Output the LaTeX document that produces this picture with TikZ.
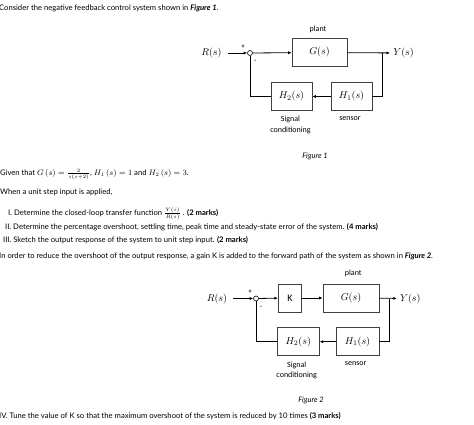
\documentclass[tikz,border=0pt]{standalone}
\usepackage[no-math]{fontspec}
\setmainfont{Lato}
\newfontfamily\calibri{Carlito}
\usetikzlibrary{arrows.meta,positioning}

\begin{document}
\begin{tikzpicture}[x=1pt, y=-1pt,
    txt/.style={anchor=west, inner sep=0pt, font=\fontsize{7.65}{9}\selectfont},
    figcap/.style={inner sep=0pt, font=\fontsize{7.5}{9}\selectfont\itshape},
    block/.style={draw=black!75, line width=0.6pt, inner sep=0pt, minimum height=28pt},
    lbl/.style={inner sep=0pt, align=center, font=\calibri\fontsize{8}{10.5}\selectfont},
    sig/.style={inner sep=3pt},
    sumnode/.style={draw, circle, line width=0.6pt, inner sep=0pt, minimum size=5pt},
    sgn/.style={inner sep=0pt, font=\fontsize{6}{6}\selectfont\bfseries},
    wire/.style={line width=0.8pt},
    >={Latex[length=3.5pt,width=3pt]}]
    \useasboundingbox (0,0) rectangle (474,425);

    % Question text
    \node[txt] (intro) at (-1,8) {Consider the negative feedback control system shown in \textbf{\textit{Figure 1}}.};
    \node[txt] (given) at (0,174.5) {Given that $G\left(s\right)=\frac{2}{s(s+2)}$, $H_1\left(s\right)=1$ and $H_2\left(s\right)=3$.};
    \node[txt] (step) at (0,192.5) {When a unit step input is applied,};
    \node[txt] (q1) at (8,213.5) {I. Determine the closed-loop transfer function $\frac{Y(s)}{R(s)}$ . \textbf{(2 marks)}};
    \node[txt] (q2) at (5,227.5) {II. Determine the percentage overshoot, settling time, peak time and steady-state error of the system. \textbf{(4 marks)}};
    \node[txt] (q3) at (3,240) {III. Sketch the output response of the system to unit step input. \textbf{(2 marks)}};
    \node[txt] (gain) at (-1,256) {In order to reduce the overshoot of the output response, a gain K is added to the forward path of the system as shown in \textbf{\textit{Figure 2}}.};
    \node[txt] (q4) at (-1,416.5) {IV. Tune the value of K so that the maximum overshoot of the system is reduced by 10 times \textbf{(3 marks)}};

    % Figure 1
    \node[sig] (r1) at (211.5,53) {$R(s)$};
    \node[sumnode] (s1) at (250,53) {};
    \node[block, minimum width=55pt] (g1) at (319.5,52.5) {$G(s)$};
    \node[sig] (y1) at (403.5,53) {$Y(s)$};
    \node[block, minimum width=41pt] (h1a) at (351.5,96.5) {$H_1(s)$};
    \node[block, minimum width=41pt] (h2a) at (291.5,96.5) {$H_2(s)$};
    \coordinate (b1) at (382,53);
    \node[lbl] (plant1) at (318,29) {plant};
    \node[lbl] (cond1) at (290.5,125) {Signal\\conditioning};
    \node[lbl] (sens1) at (350,119) {sensor};
    \node[figcap] (fig1) at (315,156) {Figure 1};
    \node[sgn] (plus1) at (243,47) {+};
    \node[sgn] (minus1) at (255.5,61.5) {-};

    \draw[wire, ->, shorten <=3pt] (r1) -- (s1);
    \draw[wire, ->] (s1) -- (g1);
    \draw[wire, ->] (g1) -- (y1);
    \draw[wire] (b1) |- (h1a);
    \draw[wire, ->] (h1a) -- (h2a);
    \draw[wire] (h2a) -| (s1);

    % Figure 2
    \node[sig] (r2) at (217,298.5) {$R(s)$};
    \node[sumnode] (s2) at (256,298.5) {};
    \node[block, minimum width=23.5pt] (k2) at (290,298) {\calibri K};
    \node[block, minimum width=56pt] (g2) at (351,298) {$G(s)$};
    \node[sig] (y2) at (410.3,298.5) {$Y(s)$};
    \node[block, minimum width=43pt] (h1b) at (357.5,341.7) {$H_1(s)$};
    \node[block, minimum width=42pt] (h2b) at (298.3,341.7) {$H_2(s)$};
    \coordinate (b2) at (389,298.5);
    \node[lbl] (plant2) at (353.3,273.3) {plant};
    \node[lbl] (cond2) at (296.7,370.5) {Signal\\conditioning};
    \node[lbl] (sens2) at (355.7,364) {sensor};
    \node[figcap] (fig2) at (311,400) {Figure 2};
    \node[sgn] (plus2) at (250,291.7) {+};
    \node[sgn] (minus2) at (261,307.3) {-};

    \draw[wire, ->, shorten <=3pt] (r2) -- (s2);
    \draw[wire, ->] (s2) -- (k2);
    \draw[wire, ->] (k2) -- (g2);
    \draw[wire, ->] (g2) -- (y2);
    \draw[wire] (b2) |- (h1b);
    \draw[wire, ->] (h1b) -- (h2b);
    \draw[wire] (h2b) -| (s2);
\end{tikzpicture}
\end{document}
